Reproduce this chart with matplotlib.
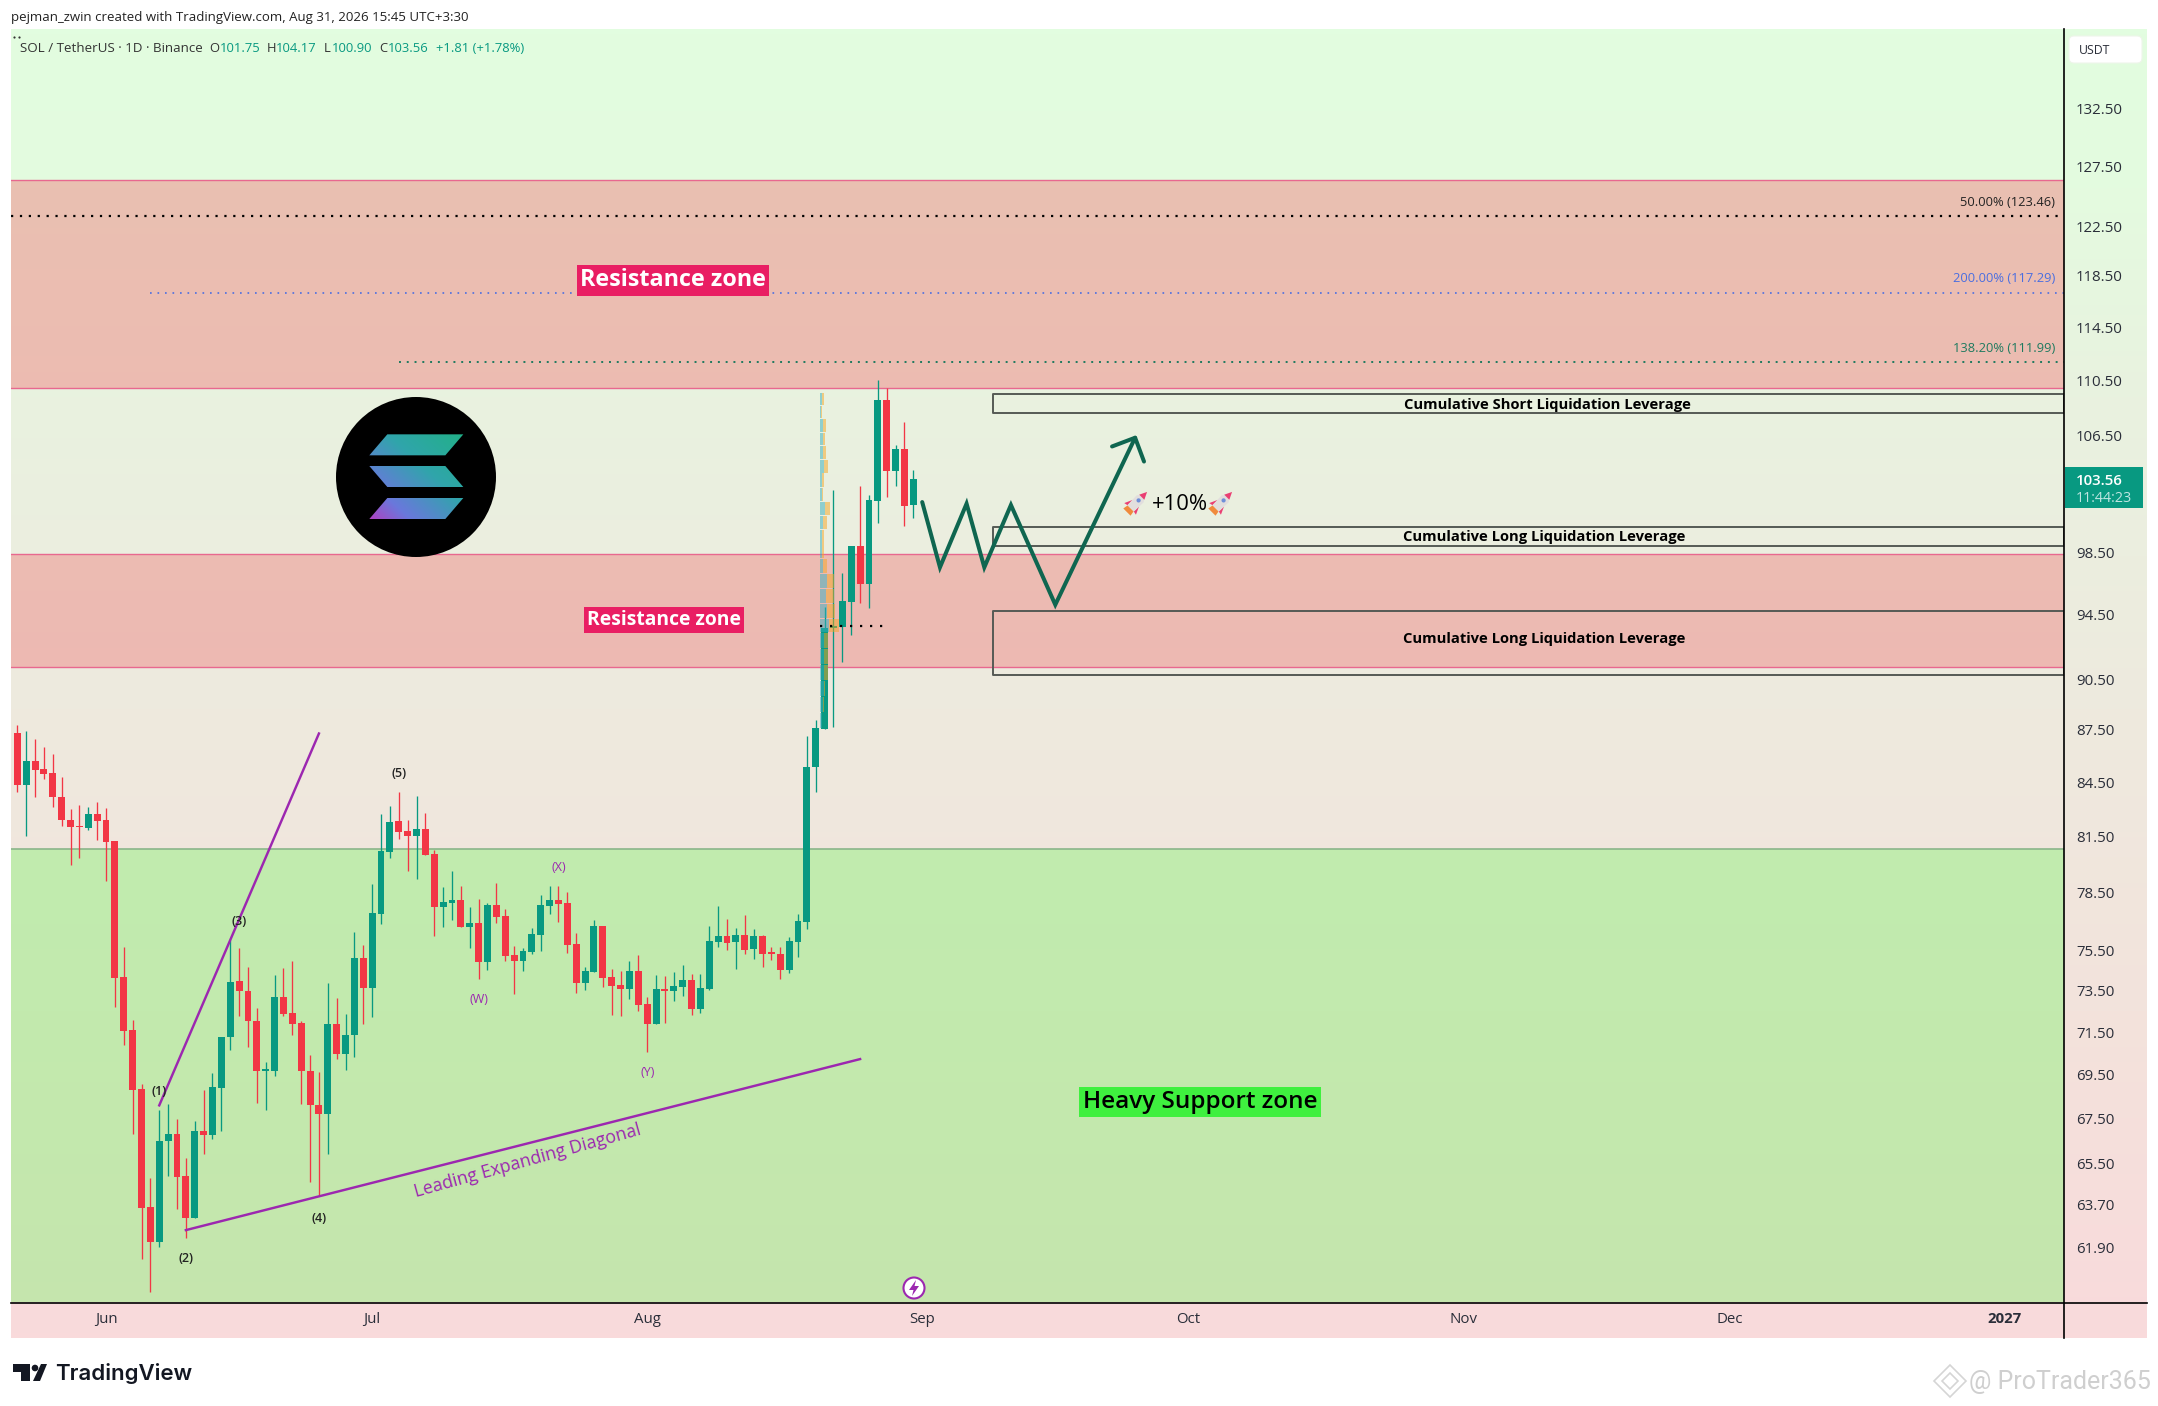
import numpy as np
import matplotlib
matplotlib.use("Agg")
import matplotlib.pyplot as plt
from matplotlib.colors import LinearSegmentedColormap
from matplotlib.patches import Polygon, Circle, FancyBboxPatch, Rectangle
from matplotlib.transforms import ScaledTranslation

# daily candles, bar 0 is May 22
opens = [87.38,84.38,85.78,85.33,85.10,83.74,82.44,82.14,82.03,82.79,
         82.46,81.32,74.25,71.67,68.90,63.65,62.20,66.52,66.85,65.00,
         63.20,66.99,66.81,68.94,71.31,74.05,73.57,72.10,69.73,69.73,
         73.26,72.48,72.00,69.73,68.16,67.73,71.95,70.50,71.40,75.20,
         73.69,77.46,80.73,82.42,81.85,81.60,81.97,80.61,77.82,78.01,
         78.17,76.77,76.97,74.99,77.91,77.34,75.34,75.04,75.50,76.36,
         77.86,78.17,78.01,75.90,73.95,74.49,76.82,74.24,73.83,73.64,
         74.54,72.91,71.93,73.64,73.54,73.75,74.09,72.66,73.64,76.00,
         76.31,76.00,76.36,75.65,76.31,75.44,75.39,74.58,76.00,77.03,
         85.41,87.63,93.72,93.83,95.39,99.04,96.55,102.07,109.20,104.13,
         105.68,101.75]
highs = [87.85,87.52,87.05,86.60,86.19,84.87,83.07,83.29,83.19,83.47,
         83.12,81.32,75.75,72.12,69.12,64.92,67.94,68.19,67.53,65.77,
         67.44,68.84,69.63,71.33,76.09,75.69,74.73,72.72,70.15,74.35,
         74.70,75.04,72.08,70.48,69.69,73.96,73.22,72.42,76.50,75.85,
         79.01,82.76,83.23,84.00,82.46,83.80,82.85,80.84,78.86,79.69,
         78.91,77.80,78.22,78.01,79.07,77.70,75.80,75.70,76.72,78.43,
         78.91,78.91,78.59,76.46,74.74,77.13,76.82,74.64,74.54,75.04,
         75.34,73.25,74.34,74.29,74.49,74.84,74.39,74.39,76.82,77.86,
         77.20,76.72,77.39,76.67,76.36,75.75,75.75,76.25,77.44,87.22,
         88.16,95.04,102.82,97.26,99.04,103.10,102.48,110.67,110.06,105.96,
         107.54,104.17]
lows = [84.03,81.56,83.74,84.76,83.19,82.14,80.02,80.39,81.92,81.36,
        79.18,72.77,70.94,66.85,61.49,60.14,61.98,65.00,63.57,62.38,
        63.20,65.94,66.64,66.99,70.70,72.33,70.85,68.25,67.94,69.51,
        72.33,71.42,68.19,64.75,64.14,65.94,70.30,69.78,70.39,71.95,
        72.29,76.93,80.39,81.43,79.70,79.28,80.56,76.31,76.77,77.13,
        76.77,75.70,74.13,74.58,76.97,75.04,73.39,74.54,75.39,75.55,
        77.44,77.03,75.44,73.44,73.60,74.49,73.75,72.38,72.33,73.14,
        72.57,70.60,71.93,71.98,73.04,73.30,72.38,72.47,73.60,75.75,
        75.60,74.64,75.39,75.14,74.74,75.09,74.13,74.44,75.24,76.67,
        84.00,87.63,87.75,91.63,93.32,95.34,95.02,100.58,102.34,103.10,
        100.38,100.90]
closes = [84.38,85.78,85.25,85.03,83.72,82.44,82.07,82.05,82.79,82.42,
          81.27,74.21,71.63,68.86,63.63,62.20,66.53,66.85,64.97,63.20,
          66.99,66.81,68.98,71.33,74.00,73.53,72.07,69.71,69.78,73.26,
          72.42,71.97,69.71,68.14,67.73,71.95,70.50,71.42,75.20,73.69,
          77.50,80.77,82.35,81.81,81.60,81.96,80.56,77.82,78.07,78.17,
          76.77,76.97,74.99,77.91,77.29,75.29,75.04,75.55,76.41,77.91,
          78.17,77.96,75.85,73.95,74.54,76.82,74.19,73.80,73.64,74.54,
          72.86,71.93,73.64,73.54,73.80,74.09,72.66,73.69,76.05,76.31,
          75.95,76.36,75.60,76.31,75.39,75.39,74.58,76.05,77.08,85.43,
          87.69,93.77,93.89,95.46,99.04,96.55,102.14,109.20,104.13,105.68,
          101.73,103.56]

price_ticks = [132.5,127.5,122.5,118.5,114.5,110.5,106.5,98.5,94.5,90.5,87.5,84.5,
               81.5,78.5,75.5,73.5,71.5,69.5,67.5,65.5,63.7,61.9]
month_pos = [10,40,71,102,132,163,193,224]
month_names = ["Jun","Jul","Aug","Sep","Oct","Nov","Dec","2027"]

# zones (low, high price)
res_upper = (110.02, 126.44)
res_lower = (91.30, 98.46)
support_top = 80.88

# drawn lines
path_x = [102,104,107,109,112,117,126]
path_y = [101.97,97.62,101.86,97.62,101.77,95.21,106.45]
head_x = [123.4,126,127.0]
head_y = [105.83,106.45,104.77]
wave_x = [16,34]
wave_y = [68.14,87.36]
diag_x = [19,95]
diag_y = [62.69,70.28]
box_prices = [(108.19,109.58),(99.05,100.28),(90.86,94.83)]
box_names = ["Cumulative Short Liquidation Leverage","Cumulative Long Liquidation Leverage","Cumulative Long Liquidation Leverage"]

# volume profile rows next to the breakout candles
vp_edges = [109.72,108.78,107.80,106.84,105.92,104.93,103.97,102.98,102.02,101.08,100.13,99.15,
            98.20,97.22,96.26,95.29,94.35,93.44,92.45,91.50,90.53,89.56,88.62,87.68]
vp_up = [.19,.08,.30,.30,.34,.45,.19,.19,.56,.34,.19,.19,.34,.75,.68,.79,1.02,.45,.45,.45,.45,.34,.19]
vp_down = [.26,.15,.38,.26,.34,.45,.26,.15,.56,.45,.26,.26,.45,.83,.90,.90,1.13,.45,.45,.45,.10,.10,.05]

red = "#f23645"
green = "#089981"
purple = "#9c27b0"
W, H = 2158, 1406
plt.rcParams["font.family"] = ["Open Sans", "DejaVu Sans"]

fig = plt.figure(figsize=(W/100, H/100), dpi=100, facecolor="white")

def px_axes(left, top, right, bottom):
    return [left/W, 1-bottom/H, (right-left)/W, (bottom-top)/H]

# background gradient of the whole chart panel
bg = fig.add_axes(px_axes(11, 29, 2147, 1338), zorder=0)
cmap = LinearSegmentedColormap.from_list("panel", [(0,"#e2fde0"),(.12,"#e4fbdf"),(.28,"#e9f2e0"),
                                                  (.52,"#eeeade"),(.75,"#f3e3dc"),(1,"#f9dadb")])
bg.imshow(np.linspace(0,1,256).reshape(-1,1), cmap=cmap, aspect="auto")
bg.axis("off")

ax = fig.add_axes(px_axes(11, 29, 2064, 1302), zorder=1)
ax.patch.set_alpha(0)
ax.set_yscale("log")
ax.set_xlim(-0.71, 230.7)
ax.set_ylim(59.75, 139.88)
for s in ax.spines.values():
    s.set_visible(False)

# zones
ax.axhspan(res_upper[0], res_upper[1], color="#f17b7c", alpha=.46, lw=0, zorder=1)
ax.axhspan(res_lower[0], res_lower[1], color="#ee8080", alpha=.46, lw=0, zorder=1)
ax.axhspan(59, support_top, color="#8ef27c", alpha=.48, lw=0, zorder=1)
for p in list(res_upper)+list(res_lower):
    ax.axhline(p, color="#e8688f", lw=1, zorder=2)
ax.axhline(support_top, color="#8ab58a", lw=1.2, zorder=2)

# candles
for i in range(len(opens)):
    col = green if closes[i] >= opens[i] else red
    ax.vlines(i, lows[i], highs[i], color=col, lw=.95, zorder=3)
    ax.bar(i, max(abs(closes[i]-opens[i]), .08), bottom=min(opens[i], closes[i]), width=.78, color=col, lw=0, zorder=3)

# volume profile on top of the candles
for k in range(len(vp_up)):
    lo, hi = vp_edges[k+1]*1.0003, vp_edges[k]*.9997
    ax.fill_between([90.5, 90.5+vp_up[k]], lo, hi, color="#36aebe", alpha=.5, lw=0, zorder=4)
    ax.fill_between([90.5+vp_up[k], 90.5+vp_up[k]+vp_down[k]], lo, hi, color="#f5a623", alpha=.5, lw=0, zorder=4)

# fib levels
ax.hlines(123.46, -0.71, 230.7, color="black", lw=1.6, ls=(0,(1,3)), zorder=4)
ax.hlines(117.29, 15, 230.7, color="#4a6ee0", lw=1.2, ls=(0,(1,3.5)), zorder=4)
ax.hlines(111.99, 43, 230.7, color="#1e7a5f", lw=1.4, ls=(0,(1,3)), zorder=4)
ax.hlines(93.85, 90.5, 98, color="black", lw=1.6, ls=(0,(1,3.5)), zorder=5)

# boxes
for lo, hi in box_prices:
    ax.fill_between([110, 230.7], lo, hi, facecolor="none", edgecolor="#555a55", lw=1.4, zorder=4)

# projected path
ax.plot(path_x, path_y, color="#0f6650", lw=2.9, solid_joinstyle="miter", solid_capstyle="round", zorder=5)
ax.plot(head_x, head_y, color="#0f6650", lw=2.9, solid_capstyle="round", zorder=5)

# wave lines and labels
ax.plot(wave_x, wave_y, color=purple, lw=1.75, zorder=5)
ax.plot(diag_x, diag_y, color=purple, lw=1.75, zorder=5)
for t, x, y in [("(1)",16,68.79),("(2)",19,61.5),("(3)",25,77.07),("(4)",34,63.19),("(5)",43,85.03)]:
    ax.text(x, y, t, fontsize=9, color="#222222", ha="center", va="center", zorder=6, fontweight="semibold")
for t, x, y in [("(W)",52,73.14),("(X)",61,79.86),("(Y)",71,69.65)]:
    ax.text(x, y, t, fontsize=9, color=purple, ha="center", va="center", zorder=6)
ax.text(57.5, 65.64, "Leading Expanding Diagonal", color=purple, fontsize=12.8, rotation=15.5,
        ha="center", va="center", rotation_mode="anchor", zorder=6)

# axes ticks
ax.yaxis.tick_right()
ax.set_yticks(price_ticks)
ax.set_yticklabels([f"{p:.2f}" for p in price_ticks])
ax.yaxis.set_minor_locator(plt.NullLocator())
ax.tick_params(axis="y", length=0, pad=8.6, labelsize=10.8, labelcolor="#2a2e39")
nudge = ScaledTranslation(0, 1.3/100, fig.dpi_scale_trans)
for lab in ax.get_yticklabels():
    lab.set_transform(lab.get_transform()+nudge)
ax.set_xticks(month_pos)
ax.set_xticklabels(month_names)
ax.tick_params(axis="x", length=0, pad=7.5, labelsize=10.8, labelcolor="#2a2e39")
ax.get_xticklabels()[-1].set_fontweight("bold")

# overlay in pixel coordinates for labels, logo and page furniture
ov = fig.add_axes([0,0,1,1], zorder=5)
ov.patch.set_alpha(0)
ov.axis("off")

ov.plot([2064,2064],[29,1338], color="black", lw=1.2)
ov.plot([11,2147],[1303,1303], color="black", lw=1.2)

# header
ov.text(11, 17, "pejman_zwin created with TradingView.com, Aug 31, 2026 15:45 UTC+3:30", fontsize=9.5, color="#222222", va="center")
ov.text(20, 48, "SOL / TetherUS · 1D · Binance", fontsize=9.6, color="#333333", va="center")
for t, x, c in [("O",209,"#333333"),("101.75",220,green),("H",267,"#333333"),("104.17",276,green),
                ("L",324,"#333333"),("100.90",332,green),("C",379,"#333333"),("103.56",388,green),
                ("+1.81 (+1.78%)",436,green)]:
    ov.text(x, 48, t, fontsize=9.4, color=c, va="center")

# price box and currency
ov.add_patch(Rectangle((2065,467), 78, 41, color=green, lw=0))
ov.text(2076, 481, "103.56", color="white", fontsize=10.8, va="center", fontweight="semibold")
ov.text(2076, 499, "11:44:23", color="#bfe6e2", fontsize=10.4, va="center")
ov.add_patch(FancyBboxPatch((2072,39), 67, 21, boxstyle="round,pad=3,rounding_size=5", fc="white", ec="#eef5ea", lw=.8))
ov.text(2079, 50, "USDT", color="#2a2e39", fontsize=8.8, va="center")

# fib labels
ov.text(2055, 202, "50.00% (123.46)", color="#222222", fontsize=9.3, ha="right", va="center")
ov.text(2055, 279, "200.00% (117.29)", color="#4a6ee0", fontsize=9.3, ha="right", va="center")
ov.text(2055, 349, "138.20% (111.99)", color="#1e7a5f", fontsize=9.3, ha="right", va="center")

# zone labels
ov.text(673, 280, "Resistance zone", color="white", fontsize=16.8, fontweight="bold", ha="center", va="center",
        bbox=dict(fc="#e91e63", ec="none", pad=2.5))
ov.text(664, 620, "Resistance zone", color="white", fontsize=13.9, fontweight="bold", ha="center", va="center",
        bbox=dict(fc="#e91e63", ec="none", pad=2.5))
ov.text(1200, 1102, "Heavy Support zone", color="black", fontsize=17.5, fontweight="semibold", ha="center", va="center",
        bbox=dict(fc="#3ff03f", ec="none", pad=2.5))
ov.text(1547, 405, box_names[0], color="black", fontsize=10.6, fontweight="bold", ha="center", va="center")
ov.text(1544, 537, box_names[1], color="black", fontsize=10.6, fontweight="bold", ha="center", va="center")
ov.text(1544, 639, box_names[2], color="black", fontsize=10.6, fontweight="bold", ha="center", va="center")
ov.text(1180, 504, "+10%", color="black", fontsize=15.8, ha="center", va="center", fontweight="medium")

# rockets next to the +10%
def rocket(cx, cy, s):
    rot = np.deg2rad(45)
    def tr(pts):
        pts = np.array(pts, float)*s
        xy = np.c_[pts[:,0]*np.cos(rot)-pts[:,1]*np.sin(rot), pts[:,0]*np.sin(rot)+pts[:,1]*np.cos(rot)]
        return xy+[cx, cy]
    ov.add_patch(Polygon(tr([[-.28,.6],[.28,.6],[.34,.95],[-.34,.95]]), color="#f08a3c", lw=0))
    ov.add_patch(Polygon(tr([[-.55,.65],[-.3,.1],[-.3,.6]]), color="#ea3f73", lw=0))
    ov.add_patch(Polygon(tr([[.55,.65],[.3,.1],[.3,.6]]), color="#ea3f73", lw=0))
    ov.add_patch(Polygon(tr([[-.3,.6],[-.33,-.3],[0,-.7],[.33,-.3],[.3,.6]]), color="#e2dedd", lw=0))
    ov.add_patch(Polygon(tr([[-.24,-.45],[0,-.95],[.24,-.45]]), color="#ea3f73", lw=0))
    ov.add_patch(Circle(tr([[0,-.15]])[0], .14*s, color="#6f8fd8", lw=0))

rocket(1137, 502, 15)
rocket(1222, 502, 15)

# Solana logo
ov.add_patch(Circle((416,477), 80, color="black", lw=0))
grad_x, grad_y = np.meshgrid(np.linspace(0,1,120), np.linspace(1,0,120))
logo_cmap = LinearSegmentedColormap.from_list("sol", [(0,"#b040c0"),(.22,"#6a78dc"),(.6,"#30a5ab"),(1,"#22b088")])
for pts in [[(262,193),(490,193),(436,256),(208,256)],[(208,288),(436,288),(490,351),(262,351)],[(262,384),(490,384),(436,447),(208,447)]]:
    poly = Polygon([(300+a/3, 370+b/3) for a, b in pts], transform=ov.transData, fc="none", ec="none")
    ov.add_patch(poly)
    im = ov.imshow((grad_x+grad_y)/2, cmap=logo_cmap, vmin=0, vmax=1, extent=(369,464,520,434), aspect="auto", zorder=3)
    im.set_clip_path(poly)

# bolt marker
ov.add_patch(Circle((914,1288), 10.5, fc="white", ec=purple, lw=1.5))
ov.add_patch(Polygon([(916,1280),(909,1290),(913.5,1290),(912,1296),(919,1286),(914.5,1286)], color=purple, lw=0))

# TradingView logo
ov.add_patch(Polygon([(13,1364),(30,1364),(30,1381),(21,1381),(21,1372),(13,1372)], color="#131722", lw=0))
ov.add_patch(Circle((35,1368), 3.3, color="#131722", lw=0))
ov.add_patch(Polygon([(41,1364),(47,1364),(40,1381),(33,1381)], color="#131722", lw=0))
ov.text(55, 1373, "TradingView", color="#131722", fontsize=16, fontweight="semibold", family="Inter", va="center")

# watermark
for r in [16,8]:
    ov.add_patch(Polygon([(1950,1381-r),(1950+r,1381),(1950,1381+r),(1950-r,1381)], fc="none", ec="#d5d5d5", lw=1.2))
ov.text(1969, 1382, "@ ProTrader365", color="#cfcfcf", fontsize=18, family="Roboto", va="center")
ov.scatter([14,19],[37,37], s=2.5, color="#333333", lw=0)

ov.set_xlim(0, W)
ov.set_ylim(H, 0)

fig.savefig("out.png", dpi=100)
